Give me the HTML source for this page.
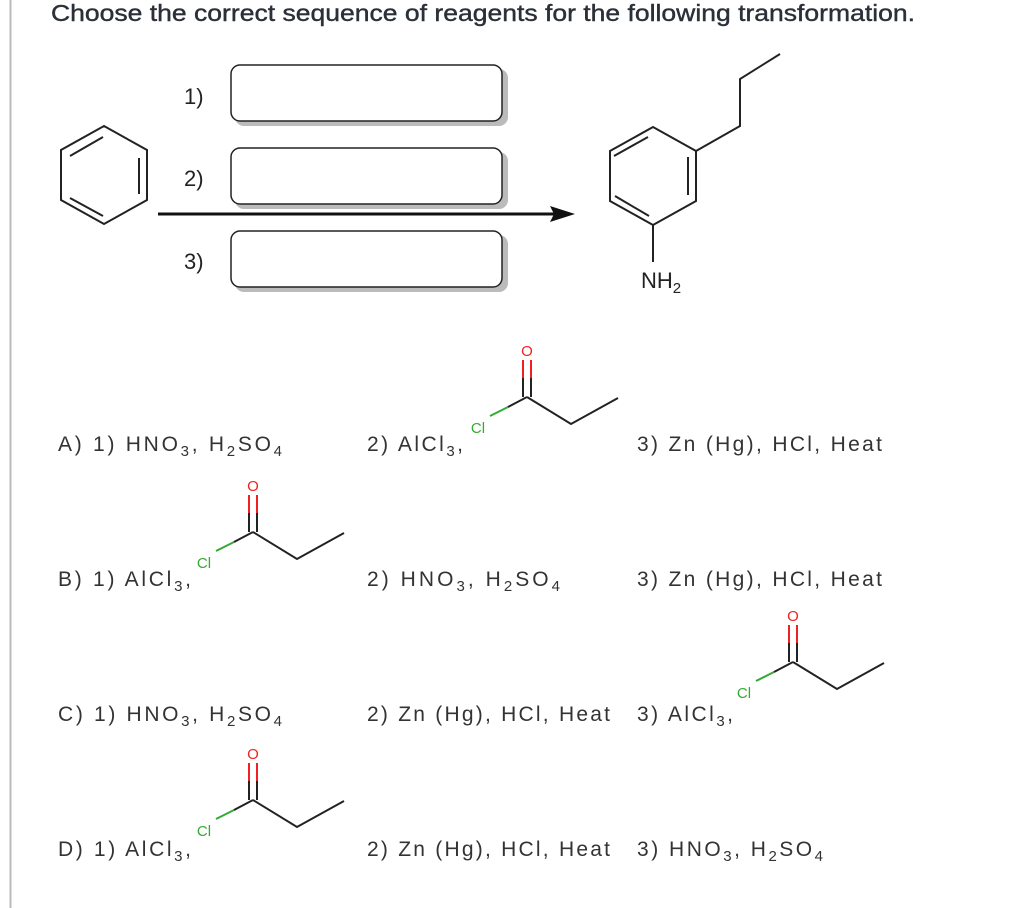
<!DOCTYPE html>
<html><head><meta charset="utf-8"><style>
html,body{margin:0;padding:0;background:#fff;}
svg{display:block}
text{font-family:"Liberation Sans",sans-serif;}
</style></head><body>
<svg width="1024" height="908" viewBox="0 0 1024 908" xmlns="http://www.w3.org/2000/svg">
<defs>
<g id="acyl">
  <line x1="490" y1="416" x2="508" y2="407" stroke="#3a3" stroke-width="2"/>
  <line x1="508" y1="407" x2="527" y2="397" stroke="#222" stroke-width="2"/>
  <line x1="523" y1="397" x2="523" y2="378" stroke="#222" stroke-width="2"/>
  <line x1="531" y1="397" x2="531" y2="378" stroke="#222" stroke-width="2"/>
  <line x1="523" y1="378" x2="523" y2="360" stroke="#e22" stroke-width="2"/>
  <line x1="531" y1="378" x2="531" y2="360" stroke="#e22" stroke-width="2"/>
  <text x="527" y="356" font-size="15" fill="#e22" text-anchor="middle">O</text>
  <text x="478" y="433" font-size="15" fill="#3a3" text-anchor="middle">Cl</text>
  <polyline points="527,397 571,424 618,398" fill="none" stroke="#222" stroke-width="2"/>
</g>
</defs>
<line x1="10.5" y1="0" x2="10.5" y2="908" stroke="#bbb" stroke-width="2"/>
<text x="51" y="21" font-size="23" fill="#2b3038" stroke="#2b3038" stroke-width="0.4" textLength="864" lengthAdjust="spacingAndGlyphs">Choose the correct sequence of reagents for the following transformation.</text>

<!-- benzene -->
<g fill="none" stroke="#222" stroke-width="2">
<polygon points="104,126 147,150 147,200 104,224 61,200 61,150"/>
<line x1="70" y1="156" x2="103" y2="137"/>
<line x1="139" y1="158" x2="139" y2="194"/>
<line x1="70" y1="198" x2="103" y2="216"/>
</g>

<!-- boxes -->
<g font-size="22" fill="#222">
<text x="184" y="104">1)</text>
<text x="184" y="186">2)</text>
<text x="184" y="269">3)</text>
</g>
<g>
<rect x="235" y="69" width="273" height="57" rx="9" fill="#bbb"/>
<rect x="231" y="65" width="271" height="56" rx="9" fill="#fff" stroke="#222" stroke-width="1.5"/>
<rect x="235" y="152" width="273" height="57" rx="9" fill="#bbb"/>
<rect x="231" y="148" width="271" height="56" rx="9" fill="#fff" stroke="#222" stroke-width="1.5"/>
<rect x="235" y="235" width="273" height="57" rx="9" fill="#bbb"/>
<rect x="231" y="231" width="271" height="56" rx="9" fill="#fff" stroke="#222" stroke-width="1.5"/>
</g>
<line x1="158" y1="214" x2="555" y2="214" stroke="#111" stroke-width="3"/>
<polygon points="575,214 550,206 554,214 550,222" fill="#111"/>

<!-- product -->
<g fill="none" stroke="#222" stroke-width="2">
<polygon points="653,127 696,151 696,201 653,225 610,201 610,151"/>
<line x1="614" y1="156" x2="648" y2="137"/>
<line x1="688" y1="157" x2="688" y2="195"/>
<line x1="615" y1="196" x2="649" y2="216"/>
<polyline points="696,151 740,126 740,79 780,54"/>
<line x1="653" y1="225" x2="653" y2="262"/>
</g>
<text x="641" y="288" font-size="22" fill="#222">NH<tspan font-size="15" dy="5">2</tspan></text>

<!-- options -->
<g font-size="21" fill="#333">
<text x="58" y="451" textLength="224">A)  1) HNO<tspan font-size="15" dy="5">3</tspan><tspan dy="-5">, H</tspan><tspan font-size="15" dy="5">2</tspan><tspan dy="-5">SO</tspan><tspan font-size="15" dy="5">4</tspan></text>
<text x="367" y="451" textLength="96">2) AlCl<tspan font-size="15" dy="5">3</tspan><tspan dy="-5">,</tspan></text>
<text x="637" y="451" textLength="245">3) Zn (Hg), HCl, Heat</text>

<text x="58" y="586" textLength="133">B)  1) AlCl<tspan font-size="15" dy="5">3</tspan><tspan dy="-5">,</tspan></text>
<text x="367" y="586" textLength="193">2) HNO<tspan font-size="15" dy="5">3</tspan><tspan dy="-5">, H</tspan><tspan font-size="15" dy="5">2</tspan><tspan dy="-5">SO</tspan><tspan font-size="15" dy="5">4</tspan></text>
<text x="637" y="586" textLength="245">3) Zn (Hg), HCl, Heat</text>

<text x="58" y="721" textLength="224">C)  1) HNO<tspan font-size="15" dy="5">3</tspan><tspan dy="-5">, H</tspan><tspan font-size="15" dy="5">2</tspan><tspan dy="-5">SO</tspan><tspan font-size="15" dy="5">4</tspan></text>
<text x="367" y="721" textLength="243">2) Zn (Hg), HCl, Heat</text>
<text x="637" y="721" textLength="96">3) AlCl<tspan font-size="15" dy="5">3</tspan><tspan dy="-5">,</tspan></text>

<text x="58" y="856" textLength="133">D)  1) AlCl<tspan font-size="15" dy="5">3</tspan><tspan dy="-5">,</tspan></text>
<text x="367" y="856" textLength="243">2) Zn (Hg), HCl, Heat</text>
<text x="637" y="856" textLength="186">3) HNO<tspan font-size="15" dy="5">3</tspan><tspan dy="-5">, H</tspan><tspan font-size="15" dy="5">2</tspan><tspan dy="-5">SO</tspan><tspan font-size="15" dy="5">4</tspan></text>
</g>

<use href="#acyl"/>
<use href="#acyl" transform="translate(-274,135)"/>
<use href="#acyl" transform="translate(266,265)"/>
<use href="#acyl" transform="translate(-274,403)"/>
</svg>
</body></html>
